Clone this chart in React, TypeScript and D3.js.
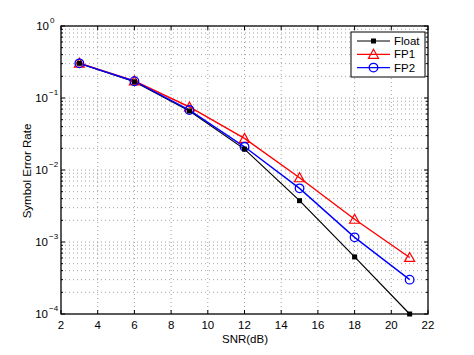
import React from "react";
import * as d3 from "d3";

const snr = [3, 6, 9, 12, 15, 18, 21];
const floatSER = [0.303, 0.168, 0.066, 0.0195, 0.00375, 0.00062, 0.0001];
const fp1SER = [0.305, 0.173, 0.075, 0.0275, 0.0078, 0.00207, 0.00061];
const fp2SER = [0.303, 0.171, 0.068, 0.021, 0.00556, 0.00116, 0.0003];
const xTicks = [2, 4, 6, 8, 10, 12, 14, 16, 18, 20, 22];
const yExps = [0, -1, -2, -3, -4];
const seriesNames = ["Float", "FP1", "FP2"];
const seriesColors = ["#000000", "#ff0000", "#0000ff"];

const W = 474, H = 355;
const L = 61, R = 428, T = 26, B = 314;
const FONT = "Liberation Sans, Arial, Helvetica, sans-serif";

export default function App() {
  const x = d3.scaleLinear().domain([2, 22]).range([L, R]);
  const y = d3.scaleLog().domain([1e-4, 1]).range([B, T]);
  const line = d3.line<[number, number]>().x(d => x(d[0])).y(d => y(d[1]));
  const minorY: number[] = [];
  for (let e = -4; e < 0; e++) for (let m = 2; m <= 9; m++) minorY.push(m * Math.pow(10, e));
  const data = [floatSER, fp1SER, fp2SER];
  const grid = "#8a8a8a";
  return (
    <svg width={W} height={H} style={{ position: "absolute", left: 0, top: 0, background: "#fff" }}>
      <rect x={0} y={0} width={W} height={H} fill="#fff" />
      {/* grid */}
      {xTicks.slice(1, -1).map(t => (
        <line key={"gx" + t} x1={x(t)} x2={x(t)} y1={T} y2={B} stroke={grid} strokeWidth={0.8} strokeDasharray="1,3" />
      ))}
      {yExps.slice(1, -1).map(e => (
        <line key={"gy" + e} x1={L} x2={R} y1={y(Math.pow(10, e))} y2={y(Math.pow(10, e))} stroke={grid} strokeWidth={0.8} strokeDasharray="1,3" />
      ))}
      {minorY.map((v, i) => (
        <line key={"gm" + i} x1={L} x2={R} y1={y(v)} y2={y(v)} stroke={grid} strokeWidth={0.8} strokeDasharray="1,3" />
      ))}
      {/* ticks */}
      {xTicks.map(t => (
        <g key={"tx" + t}>
          <line x1={x(t)} x2={x(t)} y1={B} y2={B - 4} stroke="#000" />
          <line x1={x(t)} x2={x(t)} y1={T} y2={T + 4} stroke="#000" />
          <text x={x(t)} y={329} fontSize={11.5} fontFamily={FONT} textAnchor="middle">{t}</text>
        </g>
      ))}
      {yExps.map(e => (
        <g key={"ty" + e}>
          <line x1={L} x2={L + 4} y1={y(Math.pow(10, e))} y2={y(Math.pow(10, e))} stroke="#000" />
          <line x1={R} x2={R - 4} y1={y(Math.pow(10, e))} y2={y(Math.pow(10, e))} stroke="#000" />
          <text x={e === 0 ? 49 : 48} y={y(Math.pow(10, e)) + 4} fontSize={11.5} fontFamily={FONT} textAnchor="end">10</text>
          <text x={e === 0 ? 50 : 49} y={y(Math.pow(10, e)) - 3} fontSize={8} fontFamily={FONT} textAnchor="start">{e === 0 ? "0" : "\u2212" + -e}</text>
        </g>
      ))}
      {minorY.map((v, i) => (
        <g key={"mt" + i}>
          <line x1={L} x2={L + 2} y1={y(v)} y2={y(v)} stroke="#000" />
          <line x1={R} x2={R - 2} y1={y(v)} y2={y(v)} stroke="#000" />
        </g>
      ))}
      <rect x={L} y={T} width={R - L} height={B - T} fill="none" stroke="#000" strokeWidth={1.3} />
      {/* series */}
      {data.map((vals, si) => (
        <path key={"s" + si} d={line(snr.map((s, i) => [s, vals[i]] as [number, number])) || ""} fill="none"
          stroke={seriesColors[si]} strokeWidth={si === 0 ? 1.2 : 1.4} />
      ))}
      {fp1SER.map((v, i) => {
        const cx = x(snr[i]), cy = y(v);
        return <path key={"tri" + i} d={`M${cx},${cy - 5}L${cx + 5},${cy + 4}L${cx - 5},${cy + 4}Z`} fill="none" stroke="#ff0000" strokeWidth={1.2} />;
      })}
      {fp2SER.map((v, i) => (
        <circle key={"c" + i} cx={x(snr[i])} cy={y(v)} r={4.3} fill="none" stroke="#0000ff" strokeWidth={1.3} />
      ))}
      {floatSER.map((v, i) => (
        <rect key={"f" + i} x={x(snr[i]) - 2.5} y={y(v) - 2.5} width={5} height={5} fill="#000" />
      ))}
      {/* legend */}
      <rect x={351} y={32} width={74} height={45} fill="#fff" stroke="#000" strokeWidth={1} />
      {seriesNames.map((n, i) => {
        const ly = 41 + i * 13.3;
        return (
          <g key={"lg" + n}>
            <line x1={357} x2={390} y1={ly} y2={ly} stroke={seriesColors[i]} strokeWidth={1.2} />
            {i === 0 && <rect x={371} y={ly - 2.5} width={5} height={5} fill="#000" />}
            {i === 1 && <path d={`M373.5,${ly - 5}L378.5,${ly + 4}L368.5,${ly + 4}Z`} fill="none" stroke="#ff0000" strokeWidth={1.2} />}
            {i === 2 && <circle cx={373.5} cy={ly} r={4.3} fill="none" stroke="#0000ff" strokeWidth={1.3} />}
            <text x={394} y={ly + 4} fontSize={11.5} fontFamily={FONT}>{n}</text>
          </g>
        );
      })}
      {/* axis labels */}
      <text x={245} y={343} fontSize={11.5} fontFamily={FONT} textAnchor="middle">SNR(dB)</text>
      <text transform="translate(31,171) rotate(-90)" fontSize={11.5} fontFamily={FONT} textAnchor="middle">Symbol Error Rate</text>
    </svg>
  );
}
